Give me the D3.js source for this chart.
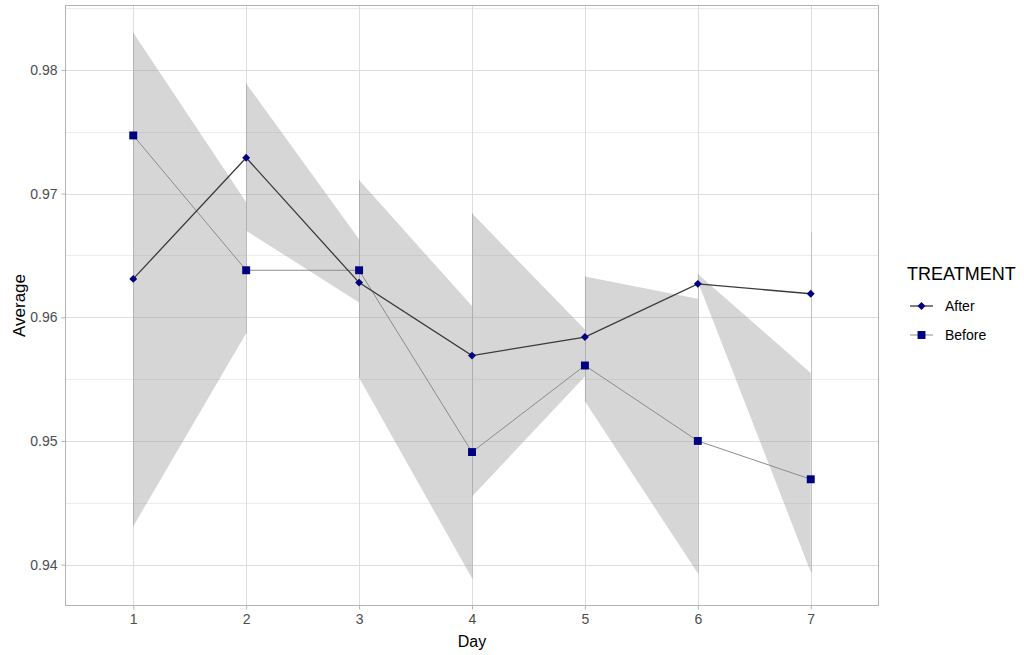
<!DOCTYPE html>
<html>
<head>
<meta charset="utf-8">
<script src="https://cdn.jsdelivr.net/npm/d3@7"></script>
<style>
  body { margin: 0; background: #fff; }
  text { font-family: "Liberation Sans", Arial, sans-serif; }
</style>
</head>
<body>
<script>
// Data.
const days = [1, 2, 3, 4, 5, 6, 7]
const afterMean = [0.9631, 0.9729, 0.9628, 0.9569, 0.9584, 0.9627, 0.9619]
const beforeMean = [0.9747, 0.9638, 0.9638, 0.9491, 0.9561, 0.9500, 0.9469]
const afterLow = [0.9431, 0.9670, 0.9551, 0.9455, 0.9532, 0.9629, 0.9570]
const afterHigh = [0.9830, 0.9789, 0.9711, 0.9684, 0.9633, 0.9635, 0.9669]
const beforeLow = [0.9680, 0.9587, 0.9612, 0.9389, 0.9552, 0.9393, 0.9394]
const beforeHigh = [0.9812, 0.9693, 0.9663, 0.9609, 0.9590, 0.9615, 0.9555]
const yTicks = [0.94, 0.95, 0.96, 0.97, 0.98]
const yMinor = [0.935, 0.945, 0.955, 0.965, 0.975, 0.985]
const series = ['After', 'Before']

const W = 1024, H = 655
const panel = { left: 65.5, right: 878.5, top: 5.5, bottom: 605.5 }

const svg = d3.select('body').append('svg')
  .attr('width', W)
  .attr('height', H)

// Scales (5% expansion like ggplot).
const lo = d3.min(afterLow.concat(beforeLow))
const hi = d3.max(afterHigh.concat(beforeHigh))
const pad = (hi - lo) * 0.05
const x = d3.scaleLinear().domain([0.4, 7.6]).range([panel.left, panel.right])
const y = d3.scaleLinear().domain([lo - pad, hi + pad]).range([panel.bottom, panel.top])

// Grid lines.
const grid = svg.append('g')
grid.selectAll('.minor')
  .data(yMinor.filter(v => y(v) > panel.top && y(v) < panel.bottom))
  .enter().append('line')
    .attr('x1', panel.left).attr('x2', panel.right)
    .attr('y1', d => Math.round(y(d)) + 0.5).attr('y2', d => Math.round(y(d)) + 0.5)
    .style('stroke', '#ececec').style('stroke-width', 1)
grid.selectAll('.major-y')
  .data(yTicks)
  .enter().append('line')
    .attr('x1', panel.left).attr('x2', panel.right)
    .attr('y1', d => Math.round(y(d)) + 0.5).attr('y2', d => Math.round(y(d)) + 0.5)
    .style('stroke', '#dedede').style('stroke-width', 1)
grid.selectAll('.major-x')
  .data(days)
  .enter().append('line')
    .attr('y1', panel.top).attr('y2', panel.bottom)
    .attr('x1', d => Math.round(x(d)) + 0.5).attr('x2', d => Math.round(x(d)) + 0.5)
    .style('stroke', '#dedede').style('stroke-width', 1)

// Ribbon: rows interleaved Before then After for each day.
const rows = []
days.forEach((d, i) => {
  rows.push({ day: d, low: beforeLow[i], high: beforeHigh[i] })
  rows.push({ day: d, low: afterLow[i], high: afterHigh[i] })
})
const ribbon = d3.area()
  .x(d => x(d.day))
  .y0(d => y(d.low))
  .y1(d => y(d.high))
svg.append('path')
  .datum(rows)
  .attr('d', ribbon)
  .style('fill', '#999999')
  .style('fill-opacity', 0.4)

// Faint vertical edges of the ribbon at each day.
svg.append('g').selectAll('line')
  .data(days)
  .enter().append('line')
    .attr('x1', d => Math.round(x(d)) + 0.5).attr('x2', d => Math.round(x(d)) + 0.5)
    .attr('y1', (d, i) => y(i === 0 ? afterHigh[i] : Math.max(afterHigh[i], beforeHigh[i])))
    .attr('y2', (d, i) => y(Math.min(afterLow[i], beforeLow[i])))
    .style('stroke', '#999').style('stroke-opacity', 0.45).style('stroke-width', 1)

// Lines.
const line = d3.line().x((d, i) => x(days[i])).y(d => y(d))
svg.append('path').datum(beforeMean).attr('d', line)
  .style('fill', 'none').style('stroke', '#8c8c8c').style('stroke-width', 1)
svg.append('path').datum(afterMean).attr('d', line)
  .style('fill', 'none').style('stroke', '#3a3a3a').style('stroke-width', 1.3)

// Points.
const diamond = d3.symbol().type(d3.symbolDiamond2).size(40)
const square = d3.symbol().type(d3.symbolSquare2).size(80)
svg.append('g').selectAll('path')
  .data(afterMean).enter().append('path')
    .attr('d', diamond)
    .attr('transform', (d, i) => `translate(${x(days[i])}, ${y(d)})`)
    .style('fill', '#000080')
svg.append('g').selectAll('path')
  .data(beforeMean).enter().append('path')
    .attr('d', square)
    .attr('transform', (d, i) => `translate(${x(days[i])}, ${y(d)})`)
    .style('fill', '#000080')

// Panel border.
svg.append('rect')
  .attr('x', panel.left).attr('y', panel.top)
  .attr('width', panel.right - panel.left).attr('height', panel.bottom - panel.top)
  .style('fill', 'none').style('stroke', '#b3b3b3').style('stroke-width', 1)

// Axes.
const yAxis = svg.append('g')
  .attr('transform', `translate(${panel.left}, 0)`)
  .call(d3.axisLeft(y).tickValues(yTicks).tickFormat(d3.format('.2f')).tickSize(4).tickPadding(4))
const xAxis = svg.append('g')
  .attr('transform', `translate(0, ${panel.bottom})`)
  .call(d3.axisBottom(x).tickValues(days).tickFormat(d3.format('d')).tickSize(4).tickPadding(5))
;[xAxis, yAxis].forEach(a => {
  a.select('.domain').remove()
  a.selectAll('line').style('stroke', '#b3b3b3')
  a.selectAll('text').style('fill', '#4d4d4d').style('font-size', '14px')
    .style('font-family', '"Liberation Sans", Arial, sans-serif')
})

// Axis titles.
svg.append('text')
  .attr('x', (panel.left + panel.right) / 2).attr('y', 647)
  .style('text-anchor', 'middle').style('font-size', '16px')
  .text('Day')
svg.append('text')
  .attr('transform', `translate(25, ${(panel.top + panel.bottom) / 2}) rotate(-90)`)
  .style('text-anchor', 'middle').style('font-size', '17px')
  .text('Average')

// Legend.
const legend = svg.append('g').attr('transform', 'translate(907, 0)')
legend.append('text')
  .attr('x', 0).attr('y', 280)
  .style('font-size', '18px')
  .text('TREATMENT')
const keyColors = ['#3a3a3a', '#8c8c8c']
const keySymbols = [diamond, square]
series.forEach((s, i) => {
  const cy = 306 + i * 29
  legend.append('line')
    .attr('x1', 3).attr('x2', 26).attr('y1', cy).attr('y2', cy)
    .style('stroke', keyColors[i]).style('stroke-width', i === 0 ? 1.3 : 1)
  legend.append('path')
    .attr('d', keySymbols[i])
    .attr('transform', `translate(14.5, ${cy})`)
    .style('fill', '#000080')
  legend.append('text')
    .attr('x', 38).attr('y', cy + 5)
    .style('font-size', '14px')
    .text(s)
})
</script>
</body>
</html>
